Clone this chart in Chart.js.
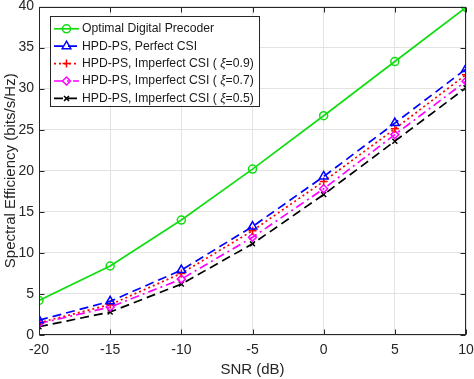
<!DOCTYPE html>
<html><head><meta charset="utf-8">
<script src="https://cdn.jsdelivr.net/npm/chart.js@4/dist/chart.umd.min.js"></script>
<style>html,body{margin:0;padding:0;background:#fff}#wrap{position:relative;width:474px;height:379px}</style>
</head><body><div id="wrap"><canvas id="c" width="474" height="379"></canvas></div>
<script>
const snr=[-20,-15,-10,-5,0,5,10];
const optimal=[4.2,8.4,14.0,20.2,26.7,33.3,39.9];
const perfect=[1.8,4.1,7.9,13.2,19.3,25.8,32.4];
const xi09=[1.5,3.7,7.5,12.7,18.7,25.1,31.7];
const xi07=[1.4,3.4,6.8,11.9,17.8,24.4,30.9];
const xi05=[1.0,2.8,6.2,11.1,17.1,23.6,30.1];
const xTicks=[-20,-15,-10,-5,0,5,10];
const yTicks=[0,5,10,15,20,25,30,35,40];
const seriesNames=['Optimal Digital Precoder','HPD-PS, Perfect CSI','HPD-PS, Imperfect CSI ( ','HPD-PS, Imperfect CSI ( ','HPD-PS, Imperfect CSI ( '];
const xiLabels=['','','=0.9)','=0.7)','=0.5)'];

const FONT='"Liberation Sans", Arial, sans-serif';
const styles=[
 {color:'#11dd11',dash:[],ps:'circle',r:4},
 {color:'#0000ff',dash:[9,5],ps:'triangle',r:5},
 {color:'#ff0000',dash:[2,3],ps:'cross',r:4},
 {color:'#ff00ff',dash:[9,4,2,4],ps:'rectRot',r:4},
 {color:'#000000',dash:[9,5],ps:'crossRot',r:3.5}
];
const values=[optimal,perfect,xi09,xi07,xi05];
const datasets=values.map((v,i)=>({
  label:seriesNames[i]+(xiLabels[i]?'ξ'+xiLabels[i]:''),
  data:snr.map((x,j)=>({x:x,y:v[j]})),
  borderColor:styles[i].color,
  backgroundColor:'rgba(0,0,0,0)',
  borderDash:styles[i].dash,
  borderWidth:1.7,
  pointStyle:styles[i].ps,
  pointRadius:styles[i].r,
  pointBorderColor:styles[i].color,
  pointBackgroundColor:'rgba(0,0,0,0)',
  pointBorderWidth:1.5,
  tension:0
}));

const frame={id:'frame',afterDraw(ch){
  const {ctx,chartArea:a,scales:{x,y}}=ch;
  ctx.save();
  ctx.strokeStyle='#262626';ctx.lineWidth=1;ctx.setLineDash([]);
  const L=Math.round(a.left)+0.5,R=Math.round(a.right)-0.5,T=Math.round(a.top)+0.5,B=Math.round(a.bottom)-0.5;
  ctx.strokeRect(L,T,R-L,B-T);
  ctx.beginPath();
  xTicks.forEach(v=>{const p=Math.round(x.getPixelForValue(v))+0.5;ctx.moveTo(p,B);ctx.lineTo(p,B-5);ctx.moveTo(p,T);ctx.lineTo(p,T+5);});
  yTicks.forEach(v=>{const p=Math.round(y.getPixelForValue(v))+0.5;ctx.moveTo(L,p);ctx.lineTo(L+5,p);ctx.moveTo(R,p);ctx.lineTo(R-5,p);});
  ctx.stroke();
  // legend
  const lx=a.left+11,ly=a.top+9,lw=209,lh=90;
  ctx.fillStyle='#fff';ctx.fillRect(lx,ly,lw,lh);
  ctx.strokeStyle='#262626';ctx.strokeRect(Math.round(lx)+0.5,Math.round(ly)+0.5,lw,lh);
  ctx.textBaseline='middle';ctx.textAlign='left';
  for(let i=0;i<5;i++){
    const ry=ly+13.3+i*17.4;
    const s=styles[i];
    ctx.strokeStyle=s.color;ctx.lineWidth=1.7;ctx.setLineDash(s.dash);
    ctx.beginPath();ctx.moveTo(lx+4,ry);ctx.lineTo(lx+29,ry);ctx.stroke();
    ctx.setLineDash([]);ctx.lineWidth=1.5;ctx.fillStyle='rgba(0,0,0,0)';
    Chart.helpers.drawPoint(ctx,{pointStyle:s.ps,radius:s.r,borderWidth:1.5,rotation:0},lx+16.5,ry);
    ctx.fillStyle='#1a1a1a';
    let tx=lx+32;
    ctx.font='12.2px '+FONT;
    ctx.fillText(seriesNames[i],tx,ry);
    if(xiLabels[i]){
      tx+=ctx.measureText(seriesNames[i]).width;
      ctx.font='italic 12.2px '+FONT;
      ctx.fillText('ξ',tx,ry);
      tx+=ctx.measureText('ξ').width;
      ctx.font='12.2px '+FONT;
      ctx.fillText(xiLabels[i],tx,ry);
    }
  }
  ctx.restore();
}};

new Chart(document.getElementById('c'),{
  type:'line',
  data:{datasets},
  options:{
    responsive:false,devicePixelRatio:1,animation:false,
    layout:{padding:{top:6,right:0,left:0,bottom:0}},
    plugins:{legend:{display:false},tooltip:{enabled:false}},
    scales:{
      x:{type:'linear',min:-20,max:10,
        afterBuildTicks:s=>{s.ticks=xTicks.map(v=>({value:v}));},
        afterFit:s=>{s.height=44;s.paddingLeft=0;s.paddingRight=8;},
        grid:{color:'#e3e3e3',drawTicks:false},border:{display:false},
        ticks:{font:{family:FONT,size:14},color:'#262626',padding:7,maxRotation:0},
        title:{display:true,text:'SNR (dB)',font:{family:FONT,size:15},color:'#262626',padding:{top:2,bottom:0}}},
      y:{type:'linear',min:0,max:40,
        afterBuildTicks:s=>{s.ticks=yTicks.map(v=>({value:v}));},
        afterFit:s=>{s.width=39;s.paddingTop=0;s.paddingBottom=0;},
        grid:{color:'#e3e3e3',drawTicks:false},border:{display:false},
        ticks:{font:{family:FONT,size:14},color:'#262626',padding:5},
        title:{display:true,text:'Spectral Efficiency (bits/s/Hz)',font:{family:FONT,size:15},color:'#262626',padding:{top:2,bottom:0}}}
    }
  },
  plugins:[frame]
});
</script></body></html>
